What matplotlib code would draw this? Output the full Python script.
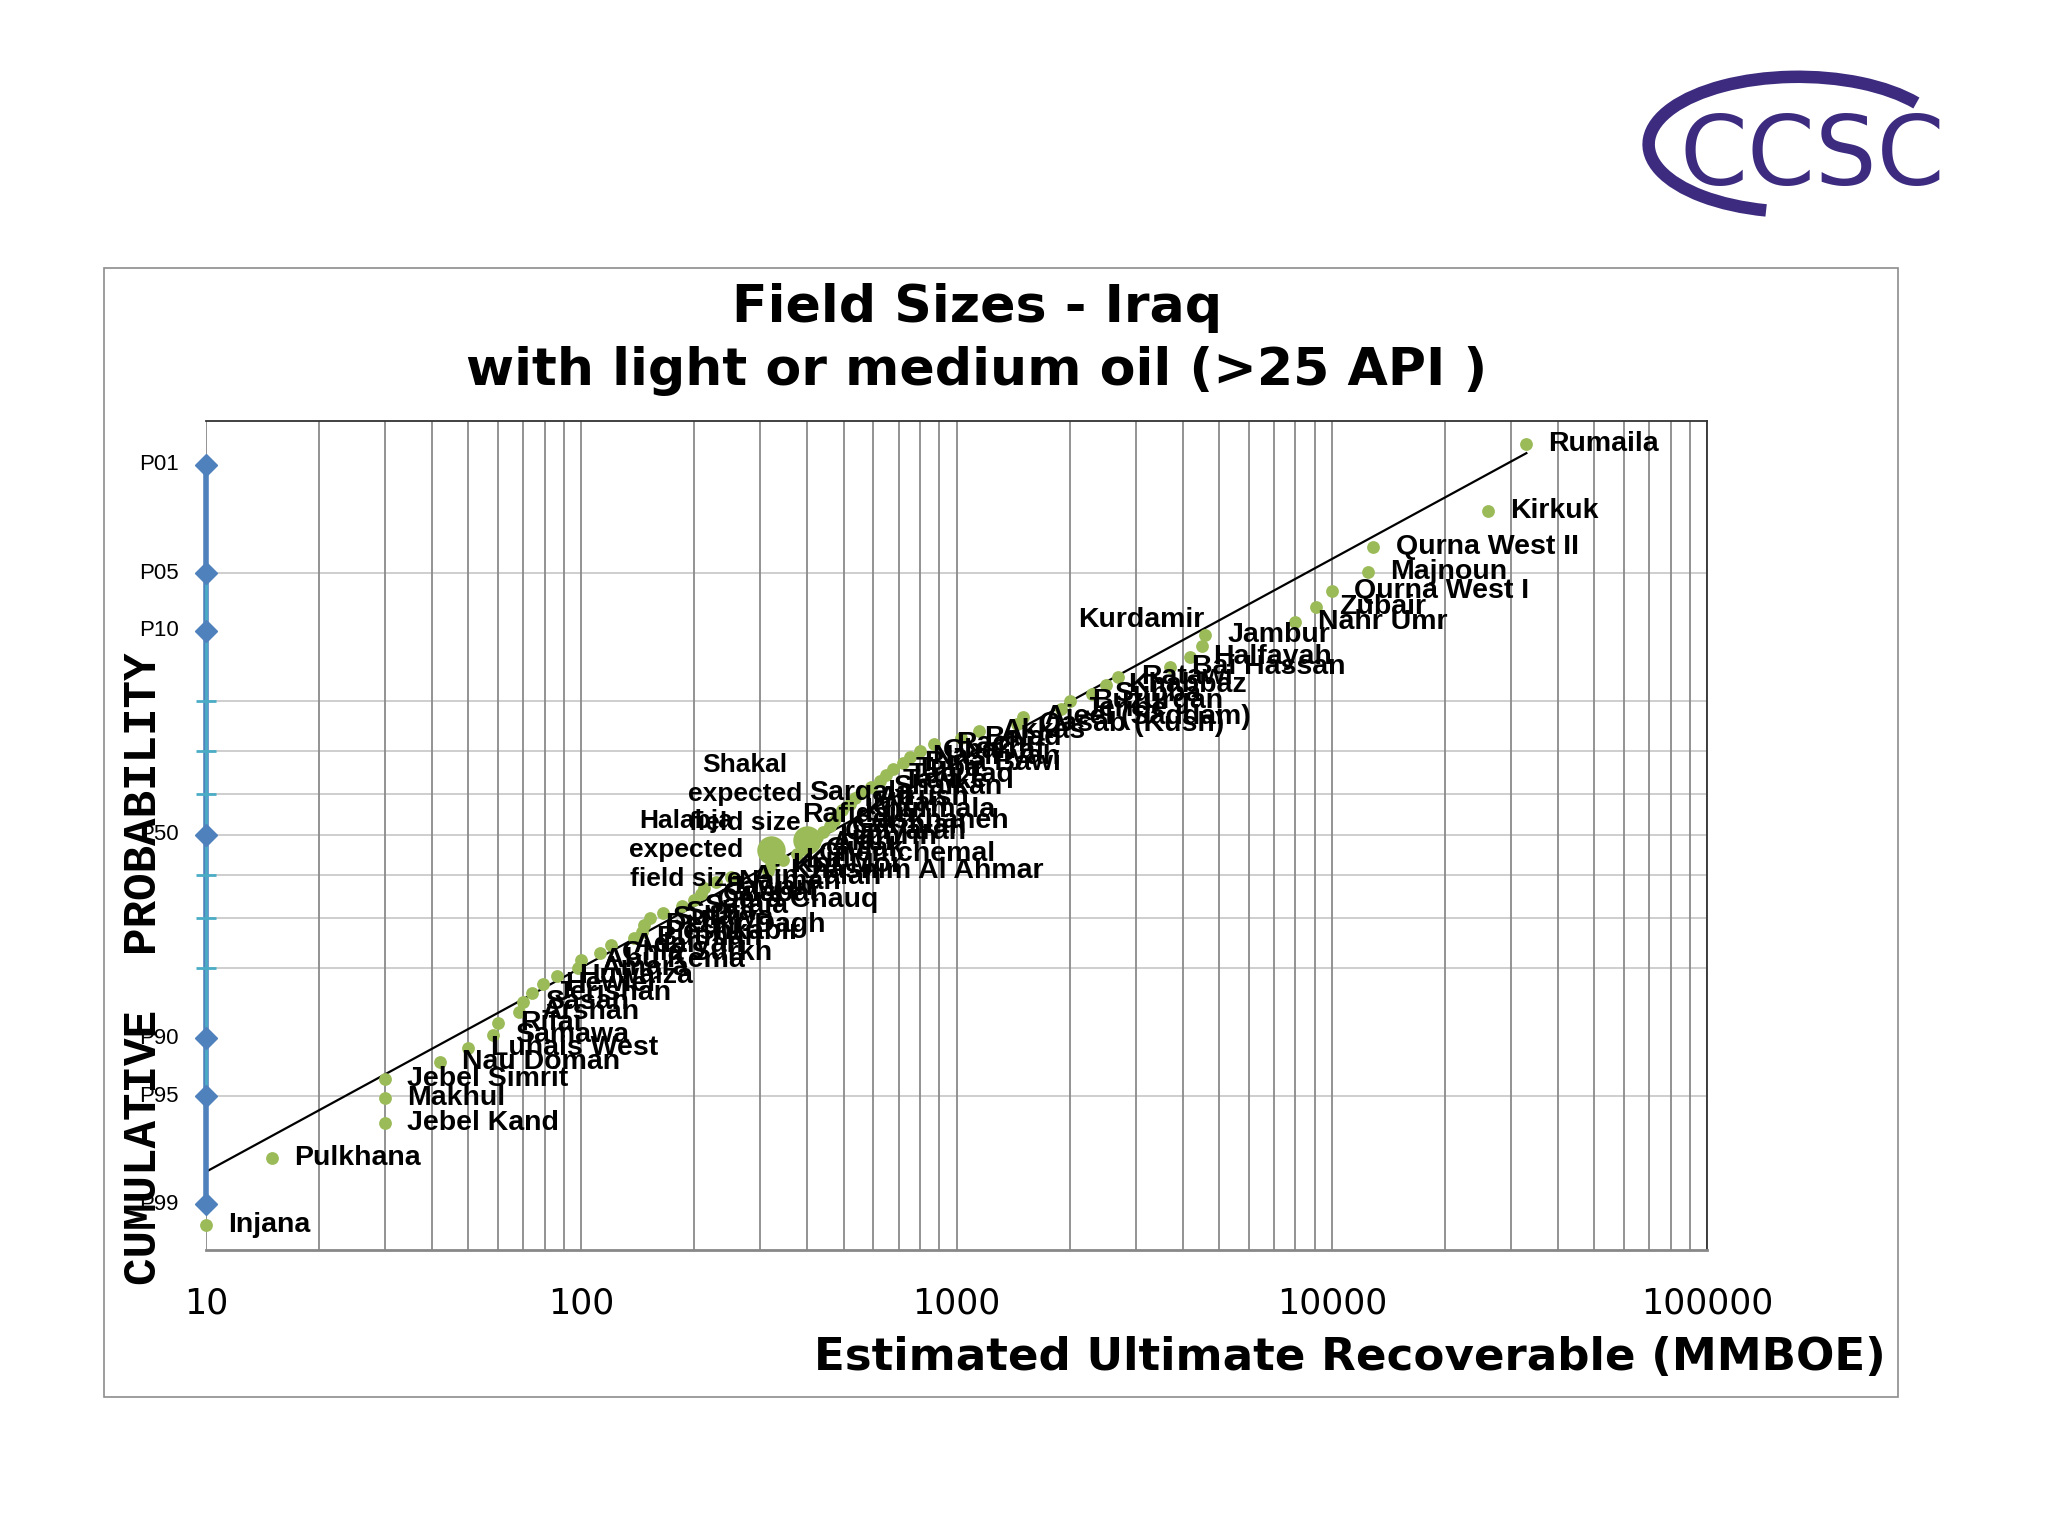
import math
import numpy as np
import matplotlib
matplotlib.use('Agg')
import matplotlib.pyplot as plt
from matplotlib.patches import Rectangle, Arc

# field sizes (MMBOE) and cumulative probability (% exceedance)
field_names = [
    'Rumaila', 'Kirkuk', 'Qurna West II', 'Majnoun', 'Qurna West I', 'Zubair', 'Nahr Umr',
    'Jambur', 'Kurdamir', 'Halfayah', 'Bai Hassan', 'Ratawi', 'Khabbaz', 'Subba', 'Buzurgan',
    'Jeribe', 'Ajeel (Saddam)', 'Qasab (Kush)', 'Akkas', 'Balad', 'Rachi', 'Gharraf',
    'Nasiriyah', 'Bina Bawi', 'Tuba', 'Taq Taq', 'Tawke', 'Shaikan', 'Sarqala', 'Atrush',
    'Miran', 'Khurmala', 'Rafidain', 'Gaskhaneh', 'Garmian', 'Qaiyarah', 'Hamrin', 'Alan',
    'Gulak', 'Chemchemal', 'Kifl', 'Kor Mor', 'Khashim Al Ahmar', 'Ain Zalah', 'Najmah',
    'Jawan', 'Gilabat', 'Qara Chauq', 'Safaia', 'Suba', 'Sufaiya', 'Demir Dagh', 'Peshkabir',
    'Butmah', 'Adaiyah', 'Chia Surkh', 'Abu Kema', 'Amara', 'Huwaiza', 'Hewler', 'Jerishan',
    'Sasan', 'Arshan', 'Rifai', 'Samawa', 'Luhais West', 'Nau Doman', 'Jebel Simrit',
    'Makhul', 'Jebel Kand', 'Pulkhana', 'Injana',
]
field_mmboe = [
    33000, 26000, 12900, 12500, 10000, 9100, 8000,
    4600, 4500, 4200, 3700, 2700, 2500, 2300, 2000,
    1900, 1500, 1450, 1150, 1030, 870, 800,
    750, 720, 678, 650, 625, 590, 555, 535,
    520, 495, 480, 470, 460, 440, 425, 405,
    390, 375, 345, 320, 315, 250, 228,
    212, 208, 200, 185, 165, 152, 147, 145,
    138, 120, 112, 100, 98, 86, 79, 74,
    70, 68, 60, 58, 50, 42, 30,
    30, 30, 15, 10,
]
field_pct = [
    0.7, 2.1, 3.5, 4.9, 6.3, 7.6, 9.0, 10.4, 11.8, 13.2, 14.6, 16.0, 17.4, 18.8, 20.1,
    21.5, 22.9, 24.3, 25.7, 27.1, 28.5, 29.9, 31.3, 32.6, 34.0, 35.4, 36.8, 38.2, 39.6,
    41.0, 42.4, 43.8, 45.1, 46.5, 47.9, 49.3, 50.7, 52.1, 53.5, 54.9, 56.3, 57.6, 59.0,
    60.4, 61.8, 63.2, 64.6, 66.0, 67.4, 68.8, 70.1, 71.5, 72.9, 74.3, 75.7, 77.1, 78.5,
    79.9, 81.3, 82.6, 84.0, 85.4, 86.8, 88.2, 89.6, 91.0, 92.4, 93.8, 95.1, 96.5, 97.9, 99.3,
]

expected_names = ['Shakal\nexpected\nfield size', 'Halabja\nexpected\nfield size']
expected_mmboe = [400, 320]
expected_pct = [51.3, 53.9]

trend_x = [10, 33000]
trend_pct = [98.3, 0.82]

p_labels = ['P01', 'P05', 'P10', 'P50', 'P90', 'P95', 'P99']
p_values = [1, 5, 10, 50, 90, 95, 99]
p_minor = [20, 30, 40, 60, 70, 80]
hgrid_pct = [5, 20, 30, 40, 50, 60, 70, 80, 95]

xticks = [10, 100, 1000, 10000, 100000]

# normal probability scale: % exceedance -> z
zg = np.linspace(-6, 6, 24001)
cdf = 0.5 * (1 + np.array([math.erf(v / math.sqrt(2)) for v in zg]))


def zpos(pct):
    return np.interp(1 - np.asarray(pct, dtype=float) / 100.0, cdf, zg)


GREEN = '#9BBB59'
BLUE = '#4F81BD'
LBLUE = '#4BACC6'

fig = plt.figure(figsize=(20.48, 15.36), dpi=100)
fig.patch.set_facecolor('white')

fig.add_artist(Rectangle((0.051, 0.0905), 0.876, 0.735, transform=fig.transFigure,
                         fill=False, ec='#8c8c8c', lw=1.2))

ax = fig.add_axes([0.1007, 0.1862, 0.7328, 0.54])
ax.set_xscale('log')
ax.set_xlim(10, 1e5)
ax.set_ylim(-2.613, 2.605)

ax.grid(True, which='both', axis='x', color='#8a8a8a', lw=1.3, zorder=0)
for p in hgrid_pct:
    ax.axhline(zpos(p), color='#c6c6c6', lw=1.2, zorder=0.5)

ax.set_xticks(xticks)
ax.set_xticklabels([str(v) for v in xticks])
ax.tick_params(axis='x', which='both', length=0, pad=26, labelsize=25)
ax.set_yticks([])
for s in ['top', 'right']:
    ax.spines[s].set_color('#333333')
    ax.spines[s].set_linewidth(1.3)
ax.spines['bottom'].set_color('#888888')
ax.spines['bottom'].set_linewidth(2)
ax.spines['left'].set_visible(False)

# probability scale drawn at x = 10
ax.plot([10, 10], zpos([1, 99]), color=BLUE, lw=4, clip_on=False, zorder=5)
ax.plot([10, 10], zpos([5, 95]), color=LBLUE, lw=2, clip_on=False, zorder=6)
ax.plot([10] * len(p_minor), zpos(p_minor), '_', color=LBLUE, ms=14, mew=2,
        clip_on=False, zorder=6)
ax.plot([10] * len(p_values), zpos(p_values), 'D', color=BLUE, ms=11.5,
        clip_on=False, zorder=7)
for lbl, p in zip(p_labels, p_values):
    ax.annotate(lbl, (10, zpos(p)), xytext=(-20, 0), textcoords='offset points',
                ha='right', va='center', fontsize=16, family='Liberation Sans')

# trend line
ax.plot(trend_x, zpos(trend_pct), color='black', lw=1.6, zorder=3)

# fields
ax.scatter(field_mmboe, zpos(field_pct), s=85, color=GREEN, zorder=4, clip_on=False,
           linewidths=0)
ax.scatter(expected_mmboe, zpos(expected_pct), s=420, color=GREEN, zorder=4,
           linewidths=0)

custom = {
    'Kurdamir': (2, 19, 'right'),
    'Sarqala': (-37, 0, 'left'),
    'Rafidain': (-25, 0, 'left'),
}
for name, v, p in zip(field_names, field_mmboe, field_pct):
    dx, dy, ha = custom.get(name, (16, 0, 'left'))
    ax.annotate(name, (v, zpos(p)), xytext=(dx, dy), textcoords='offset points',
                ha=ha, va='center', fontsize=20.5, weight='bold',
                family='Liberation Sans', zorder=8, annotation_clip=False)

exp_offsets = [(-45, 33), (-61, 0)]
for name, v, p, (dx, dy) in zip(expected_names, expected_mmboe, expected_pct, exp_offsets):
    ax.annotate(name, (v, zpos(p)), xytext=(dx, dy), textcoords='offset points',
                ha='center', va='center', fontsize=19, weight='bold',
                family='Liberation Sans', zorder=8, linespacing=1.25)

# titles
fig.text(0.477, 0.7995, 'Field Sizes - Iraq', ha='center', va='center',
         fontsize=37.5, weight='bold')
fig.text(0.477, 0.7585, 'with light or medium oil (>25 API )', ha='center', va='center',
         fontsize=37.5, weight='bold')
fig.text(0.921, 0.116, 'Estimated Ultimate Recoverable (MMBOE)', ha='right',
         va='center', fontsize=32.5, weight='bold')
fig.text(0.0702, 0.369, 'CUMULATIVE  PROBABILITY', rotation=90, ha='center',
         va='center', fontsize=33, weight='bold', family='Liberation Mono')

# logo
fig.add_artist(Arc((0.878, 0.906), width=0.146, height=0.088, theta1=25, theta2=250,
                   transform=fig.transFigure, color='#3d2b7f', lw=9))
fig.text(0.885, 0.897, 'CCSC', ha='center', va='center', fontsize=70,
         color='#3d2b7f', family='DejaVu Sans')

fig.savefig('out.png', dpi=100)
